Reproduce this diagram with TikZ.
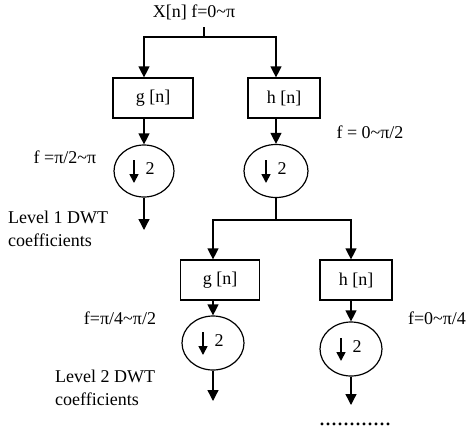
\documentclass[tikz,border=0pt]{standalone}
\usepackage{fontspec}
\setmainfont{Liberation Serif}
\usetikzlibrary{arrows.meta, positioning, shapes.geometric}

% small down-arrow drawn inside a downsampler
\newcommand{\dsarrow}[1]{\draw[-{Triangle[length=9pt,width=9pt]}, line width=1.7pt]
    ([shift={(-10,-11)}]#1.center) -- ([shift={(-10,12)}]#1.center);}

\begin{document}
\begin{tikzpicture}[x=1pt, y=-1pt,
    font=\fontsize{18}{22}\selectfont,
    filt/.style={rectangle, draw, line width=1.2pt, minimum height=40pt, inner sep=0pt},
    down/.style={ellipse, draw, line width=1.2pt, minimum width=61pt, minimum height=53pt, inner sep=0pt},
    lbl/.style={inner sep=0pt},
    arr/.style={-{Triangle[length=11pt,width=11pt]}, line width=1.3pt},
    wire/.style={line width=1.3pt}
]
    \useasboundingbox (0,0) rectangle (474,445);

    % Input signal
    \node[lbl] (xin) at (194,12) {X[n] f=0\textasciitilde π};
    \coordinate (tick0) at (204,27);
    \coordinate (split0) at (204,37);

    % Level 1 filters
    \node[filt, minimum width=80pt] (g1) at (153,98) {g [n]};
    \node[filt, minimum width=72pt] (h1) at (284,98) {h [n]};

    % Level 1 downsamplers
    \node[down, minimum width=60pt, minimum height=52pt] (g1d) at (144,171) {\hspace{12pt}\raisebox{4pt}{2}};
    \node[down, minimum width=64pt] (h1d) at (276,171) {\hspace{12pt}\raisebox{4pt}{2}};
    \dsarrow{g1d}
    \dsarrow{h1d}

    % Level 1 labels
    \node[lbl] (fg1) at (65,157) {f =π/2\textasciitilde π};
    \node[lbl] (fh1) at (370,132) {f = 0\textasciitilde π/2};
    \node[lbl, anchor=west, align=left] (lev1) at (8,229) {Level 1 DWT\\[1pt]coefficients};
    \coordinate (out1) at (144,230);
    \coordinate (split1) at (276,220);

    % Level 2 filters
    \node[filt, minimum width=79pt] (g2) at (220,280) {g [n]};
    \node[filt, minimum width=72pt] (h2) at (356,280) {h [n]};

    % Level 2 downsamplers
    \node[down, minimum width=62pt, minimum height=54pt] (g2d) at (213,343) {\hspace{12pt}\raisebox{4pt}{2}};
    \node[down, minimum width=62pt, minimum height=54pt] (h2d) at (351,349) {\hspace{12pt}\raisebox{4pt}{2}};
    \dsarrow{g2d}
    \dsarrow{h2d}

    % Level 2 labels
    \node[lbl] (fg2) at (120,318) {f=π/4\textasciitilde π/2};
    \node[lbl] (fh2) at (437,318) {f=0\textasciitilde π/4};
    \node[lbl, anchor=west, align=left] (lev2) at (55,388) {Level 2 DWT\\[1pt]coefficients};
    \node[lbl, font=\fontsize{24}{24}\selectfont] (more) at (355,424) {............};
    \coordinate (out2) at (213,401);
    \coordinate (out3) at (351,405);

    % Connections
    \draw[wire] (tick0) -- (split0);
    \draw[arr] (split0) -| (g1.north -| g1d);
    \draw[arr] (split0) -| (h1.north -| h1d);
    \draw[arr] (g1.south -| g1d) -- (g1d);
    \draw[arr] (h1.south -| h1d) -- (h1d);
    \draw[arr] (g1d) -- (out1);
    \draw[wire] (h1d) -- (split1);
    \draw[arr] (split1) -| (g2.north -| g2d);
    \draw[arr] (split1) -| (h2.north -| h2d);
    \draw[arr] (g2.south -| g2d) -- (g2d);
    \draw[arr] (h2.south -| h2d) -- (h2d);
    \draw[arr] (g2d) -- (out2);
    \draw[arr] (h2d) -- (out3);
\end{tikzpicture}
\end{document}
